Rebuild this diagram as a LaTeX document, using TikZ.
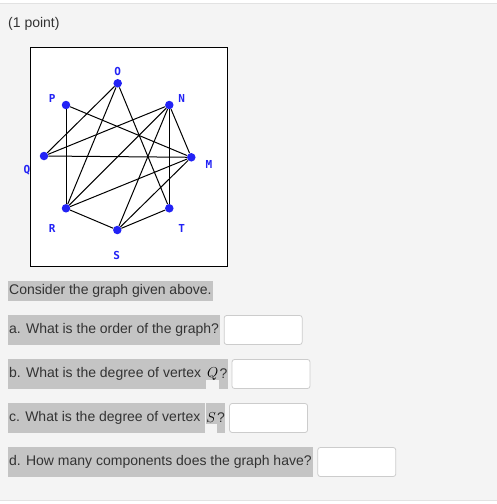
\documentclass[tikz,border=0pt]{standalone}
\usepackage{fontspec}
\setmainfont{Liberation Sans}
\newfontfamily\vlabfont{DejaVu Sans Mono}
\usetikzlibrary{positioning}

\definecolor{pagebg}{HTML}{F4F4F4}
\definecolor{pageline}{HTML}{E2E2E2}
\definecolor{hilite}{HTML}{C4C4C4}
\definecolor{vblue}{HTML}{2222F5}
\definecolor{boxline}{HTML}{CCCCCC}
\definecolor{qgray}{HTML}{333333}

\tikzset{
  vertex/.style={circle,fill=vblue,inner sep=0pt,minimum size=8.5pt},
  vlabel/.style={text=vblue,inner sep=0pt,font=\vlabfont\bfseries\fontsize{11}{11}\selectfont},
  gedge/.style={line width=1pt,black},
  qline/.style={anchor=west,fill=hilite,text=qgray,inner xsep=1pt,inner ysep=0pt,
    minimum height=30pt,font=\fontsize{14}{16}\selectfont},
  answer/.style={draw=boxline,fill=white,rounded corners=2.5pt,line width=0.8pt,
    minimum width=78pt,minimum height=29pt,inner sep=0pt}
}

\begin{document}
\begin{tikzpicture}[x=1pt,y=-1pt]
  \useasboundingbox (0,0) rectangle (497,504);
  % page background
  \fill[white] (0,0) rectangle (497,504);
  \fill[pagebg] (0,4) rectangle (497,500);
  \draw[pageline,line width=1.2pt] (0,3.5) -- (497,3.5);
  \draw[pageline,line width=1.2pt] (0,500.5) -- (497,500.5);

  \node[anchor=west,text=qgray,inner sep=0pt,font=\fontsize{14}{16}\selectfont] (pts) at (8,24) {(1 point)};

  % graph frame
  \draw[fill=white,line width=1pt] (30,47) rectangle (227,266);

  % vertices
  \node[vertex] (O) at (117.7,83.3) {};
  \node[vertex] (P) at (66,105) {};
  \node[vertex] (N) at (169.3,105) {};
  \node[vertex] (Q) at (44,156) {};
  \node[vertex] (M) at (191.3,157.3) {};
  \node[vertex] (R) at (66,208.3) {};
  \node[vertex] (T) at (169.3,208.3) {};
  \node[vertex] (S) at (117.3,230) {};

  % vertex labels
  \node[vlabel] (lO) at (117.7,71) {O};
  \node[vlabel] (lP) at (52.3,98.3) {P};
  \node[vlabel] (lN) at (181.7,98.3) {N};
  \node[vlabel] (lQ) at (27,170) {Q};
  \node[vlabel] (lM) at (209,164) {M};
  \node[vlabel] (lR) at (52.3,228.3) {R};
  \node[vlabel] (lT) at (181.7,228.3) {T};
  \node[vlabel] (lS) at (116.7,255) {S};

  % edges
  \foreach \a/\b in {O/Q,O/R,O/T,P/M,P/R,N/Q,N/R,N/S,N/T,N/M,Q/M,M/R,M/S,R/S,S/T}
    \draw[gedge] (\a) -- (\b);

  % questions
  \node[qline,minimum height=20pt] (intro) at (8,291) {Consider the graph given above.};

  \node[qline] (qa) at (8,330) {a. What is the order of the graph?};
  \node[answer,right=3.5pt of qa] (ansa) {};

  \node[qline] (qb) at (8,374) {b. What is the degree of vertex\kern4pt};
  \fill[hilite] (qb.north east) rectangle ++(13,21);
  \node[anchor=west,inner xsep=0.5pt,font=\fontsize{15}{15}\selectfont] (qbm) at (qb.east) {$Q$};
  \node[qline,inner xsep=0.5pt] (qbq) at (qbm.east) {?};
  \node[answer,right=3.5pt of qbq] (ansb) {};

  \node[qline] (qc) at (8,418) {c. What is the degree of vertex\kern4pt};
  \fill[hilite] (qc.north east) rectangle ++(12,21);
  \node[anchor=west,inner xsep=0.5pt,font=\fontsize{15}{15}\selectfont] (qcm) at (qc.east) {$S$};
  \node[qline,inner xsep=0.5pt] (qcq) at (qcm.east) {?};
  \node[answer,right=3.5pt of qcq] (ansc) {};

  \node[qline] (qd) at (8,462) {d. How many components does the graph have?};
  \node[answer,right=4.5pt of qd] (ansd) {};
\end{tikzpicture}
\end{document}
